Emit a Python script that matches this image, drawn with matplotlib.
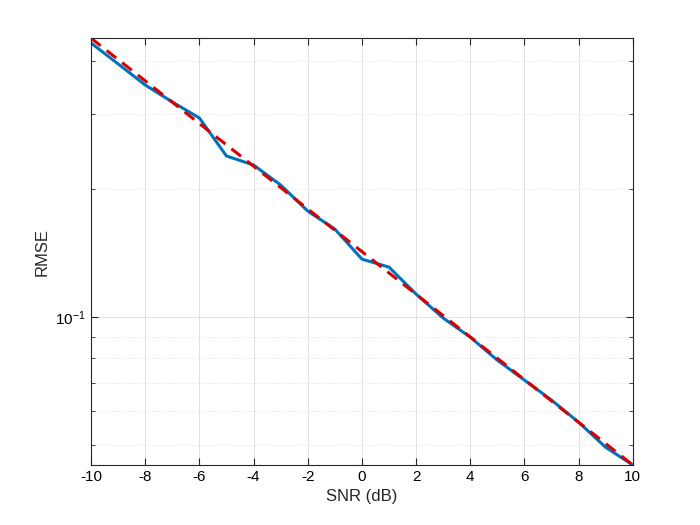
import matplotlib
matplotlib.use("Agg")
import matplotlib.pyplot as plt
from matplotlib.ticker import LogLocator, NullFormatter, FixedLocator

plt.rcParams['font.family'] = ['Liberation Sans', 'DejaVu Sans']
plt.rcParams['axes.unicode_minus'] = False

snr = [-10, -9, -8, -7, -6, -5, -4, -3, -2, -1, 0, 1, 2, 3, 4, 5, 6, 7, 8, 9, 10]
rmse = [0.4413, 0.394, 0.3515, 0.3206, 0.294, 0.2393, 0.2279, 0.2045, 0.1776, 0.1611,
        0.1369, 0.1311, 0.1133, 0.0995, 0.0897, 0.0792, 0.0711, 0.0638, 0.0566, 0.0494, 0.0449]
snr_ref = [-10, 0, 10]
rmse_ref = [0.453, 0.1426, 0.0449]

fig = plt.figure(figsize=(7, 5.25), dpi=100)
ax = fig.add_axes([0.13, 0.1143, 0.774, 0.8133])
ax.plot(snr, rmse, color='#0072BD', lw=2.2)
ax.plot(snr_ref, rmse_ref, color='#D90000', lw=2.2, ls=(0, (4, 2.5)))
ax.set_yscale('log')
ax.set_xlim(-10, 10)
ax.set_ylim(0.0449, 0.4533)
ax.set_xticks(range(-10, 11, 2))
ax.yaxis.set_major_locator(FixedLocator([0.1]))
ax.yaxis.set_minor_locator(LogLocator(base=10, subs=range(2, 10)))
ax.yaxis.set_minor_formatter(NullFormatter())
ax.grid(True, which='major', color='#dcdcdc', lw=0.6)
ax.grid(True, which='minor', axis='y', color='#e4e4e4', lw=0.6, ls=(0, (2, 2)))
ax.tick_params(which='both', direction='in', top=True, right=True, labelsize=11, color='#262626')
ax.tick_params(which='major', length=5)
ax.tick_params(which='minor', length=3)
for s in ax.spines.values():
    s.set_color('#262626'); s.set_linewidth(0.8)
ax.set_xlabel('SNR (dB)', fontsize=12, color='#262626')
ax.set_ylabel('RMSE', fontsize=12, color='#262626')
fig.savefig('out.png', dpi=100)
